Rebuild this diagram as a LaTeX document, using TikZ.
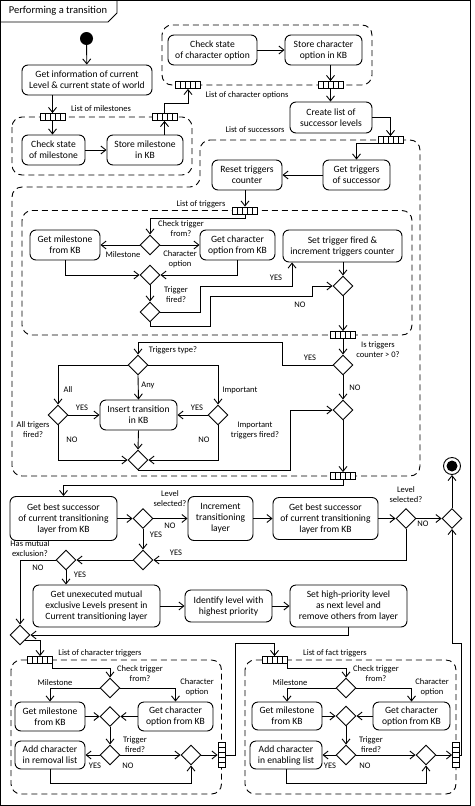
\documentclass[tikz,border=0pt]{standalone}
\usepackage{fontspec}
\setmainfont{Carlito}
\usetikzlibrary{arrows.meta,shapes.geometric,calc}
\newcommand\actfont{\fontsize{9.6}{11}\selectfont}
\newcommand\labfont{\fontsize{8.5}{10}\selectfont}
\begin{document}
\begin{tikzpicture}[x=1pt,y=-1pt,
 act/.style={draw, rounded corners=6pt, align=center, font=\actfont, inner sep=1pt, line width=0.9pt},
 dec/.style={draw, diamond, aspect=1, minimum width=20pt, minimum height=20pt, inner sep=0pt, line width=0.9pt},
 flow/.style={draw, line width=0.9pt, -{Straight Barb[length=5pt,width=8pt]}},
 region/.style={draw, line width=0.9pt, dash pattern=on 6pt off 4pt, rounded corners=10pt},
 lab/.style={font=\labfont, align=center, inner sep=0pt},
 exph/.style={draw, fill=white, line width=0.8pt, minimum width=25pt, minimum height=7pt, inner sep=0pt,
   path picture={\foreach \k in {1,2,3,4}{\draw[line width=0.8pt] ([xshift=\k*5pt]path picture bounding box.north west) -- ([xshift=\k*5pt]path picture bounding box.south west);}}},
 expv/.style={draw, fill=white, line width=0.8pt, minimum width=7pt, minimum height=25pt, inner sep=0pt,
   path picture={\foreach \k in {1,2,3,4}{\draw[line width=0.8pt] ([yshift=-\k*5pt]path picture bounding box.north west) -- ([yshift=-\k*5pt]path picture bounding box.north east);}}}
]
\useasboundingbox (0,0) rectangle (474,806);
% frame
\draw[line width=0.9pt] (0.5,0.5) rectangle (470,805.5);
\draw[line width=0.9pt] (0.5,22) -- (108,22) -- (117,13) -- (117,0.5);
\node[font=\fontsize{10.5}{12}\selectfont] (title) at (58,11) {Performing a transition};

% regions
\draw[region] (162,25) rectangle (372,85);
\draw[region] (12,117) rectangle (192,175);
\draw[region] (200,140) -- (420,140) -- (420,476) -- (12,476) -- (12,187) -- (200,187) -- cycle;
\draw[region] (22,210.5) rectangle (412,335);
\draw[region] (11,660) rectangle (221.5,794);
\draw[region] (245,660) rectangle (456,794);

% initial / final
\node[circle, fill, minimum size=13pt, inner sep=0pt] (init) at (86.5,38.5) {};
\node[circle, draw, line width=0.9pt, minimum size=17pt, inner sep=0pt] (final) at (452,466) {};
\fill (final.center) circle (5.5pt);

% actions
\node[act, minimum width=130pt, minimum height=30pt] (info) at (87,80) {Get information of current\\Level \& current state of world};
\node[act, minimum width=63pt, minimum height=30pt] (chkms) at (53.5,150) {Check state\\of milestone};
\node[act, minimum width=76pt, minimum height=30pt] (storems) at (145,150) {Store milestone\\in KB};
\node[act, minimum width=89pt, minimum height=30pt] (chkco) at (212.5,50) {Check state\\of character option};
\node[act, minimum width=77pt, minimum height=30pt] (storeco) at (323.5,50) {Store character\\option in KB};
\node[act, minimum width=82pt, minimum height=31pt] (create) at (331,117.5) {Create list of\\successor levels};
\node[act, minimum width=67pt, minimum height=30pt] (gettrig) at (356.5,175) {Get triggers\\of successor};
\node[act, minimum width=70pt, minimum height=30pt] (reset) at (247,175) {Reset triggers\\counter};
\node[act, minimum width=70pt, minimum height=30pt] (getms) at (65,245) {Get milestone\\from KB};
\node[act, minimum width=75pt, minimum height=30pt] (getco) at (237.5,245) {Get character\\option from KB};
\node[act, minimum width=119pt, minimum height=32pt] (settrig) at (342.5,246) {Set trigger fired \&\\increment triggers counter};
\node[act, minimum width=77pt, minimum height=30pt] (insert) at (138.5,415) {Insert transition\\in KB};
\node[act, minimum width=107pt, minimum height=44pt] (best1) at (63.5,518.5) {Get best successor\\of current transitioning\\layer from KB};
\node[act, minimum width=65pt, minimum height=44pt] (incr) at (220.5,518.5) {Increment\\transitioning\\layer};
\node[act, minimum width=105pt, minimum height=42pt] (best2) at (325.5,518.5) {Get best successor\\of current transitioning\\layer from KB};
\node[act, minimum width=127pt, minimum height=42pt] (unexec) at (96.5,606) {Get unexecuted mutual\\exclusive Levels present in\\Current transitioning layer};
\node[act, minimum width=87pt, minimum height=32pt] (ident) at (228.5,606) {Identify level with\\highest priority};
\node[act, minimum width=117pt, minimum height=42pt] (sethp) at (348.5,606) {Set high-priority level\\as next level and\\remove others from layer};
\node[act, minimum width=70pt, minimum height=29pt] (getms2) at (50,716.5) {Get milestone\\from KB};
\node[act, minimum width=75pt, minimum height=29pt] (getco2) at (175.5,716.5) {Get character\\option from KB};
\node[act, minimum width=70pt, minimum height=28pt] (addrem) at (50,755) {Add character\\in removal list};
\node[act, minimum width=70pt, minimum height=28pt] (getms3) at (287,716) {Get milestone\\from KB};
\node[act, minimum width=77pt, minimum height=28pt] (getco3) at (411.5,716) {Get character\\option from KB};
\node[act, minimum width=72pt, minimum height=28pt] (addena) at (286,755) {Add character\\in enabling list};

% decisions / merges
\node[dec] (dchk) at (150,245) {};
\node[dec] (dmrg1) at (150,275) {};
\node[dec] (dfired) at (150,312) {};
\node[dec] (dset) at (343,286) {};
\node[dec] (dcnt) at (343,365) {};
\node[dec] (dmrg2) at (343,410) {};
\node[dec] (dtype) at (138,365) {};
\node[dec] (dall) at (58,415) {};
\node[dec] (dimp) at (218,415) {};
\node[dec] (dmrg3) at (138,460) {};
\node[dec] (dsel1) at (143,518.5) {};
\node[dec] (dsel2) at (406,518.5) {};
\node[dec] (dmrg4) at (452,518.5) {};
\node[dec] (dyes) at (143,560) {};
\node[dec] (dmut) at (66,560) {};
\node[dec] (dmrg5) at (20,635) {};
\node[dec] (dchk2) at (110,688) {};
\node[dec] (dmrg6) at (110,716.5) {};
\node[dec] (dfired2) at (110,755) {};
\node[dec] (dmrg7) at (191,755) {};
\node[dec] (dchk3) at (346,688) {};
\node[dec] (dmrg8) at (346,716) {};
\node[dec] (dfired3) at (346,755) {};
\node[dec] (dmrg9) at (426,755) {};

% expansion nodes
\node[exph] (e1) at (52.5,117) {};
\node[exph] (e2) at (164.5,117) {};
\node[exph] (e3) at (188,85) {};
\node[exph] (e4) at (330.5,85) {};
\node[exph] (e5) at (390.5,140) {};
\node[exph] (e6) at (245,210.5) {};
\node[exph] (e7) at (343,335) {};
\node[exph] (e8) at (343,476) {};
\node[exph] (e9) at (40,660) {};
\node[exph] (e11) at (274.5,660) {};
\node[expv] (e10) at (221.5,755) {};
\node[expv] (e12) at (456,755) {};

% connectors - top
\draw[flow] (init) -- (info);
\draw[flow] (info.south -| e1) -- (e1.north);
\draw[flow] (e1.south) -- (chkms.north -| e1);
\draw[flow] (chkms) -- (storems);
\draw[flow] (storems.north -| e2) -- (e2.south);
\draw[flow] (e2.north) -- ++(0,-10) -| (e3.south);
\draw[flow] (chkco) -- (storeco);
\draw[flow] (storeco.south -| e4) -- (e4.north);
\draw[flow] (e4.south) -- (e4 |- create.north);
\draw[flow] (create.east) -| (e5.north);
\draw[flow] (e5.south west) -| (gettrig.north);
\draw[flow] (gettrig) -- (reset);
\draw[flow] (reset.south -| e6) -- (e6.north);
% triggers region
\draw[flow] (e6.south) -- ++(0,4) -| (dchk.north);
\draw[flow] (dchk.west) -- (getms.east);
\draw[flow] (dchk.east) -- (getco.west);
\draw[flow] (getms.south) |- (dmrg1.west);
\draw[flow] (getco.south) |- (dmrg1.east);
\draw[flow] (dmrg1.south) -- (dfired.north);
\draw[flow] (dfired.east) -- ++(40,0) -- ++(0,-26) -| ([xshift=9.5pt]settrig.south west);
\draw[flow] (dfired.south) -- ++(0,4) -- ++(60,0) -- ++(0,-30) -- ++(102,0) |- (dset.west);
\draw[flow] (settrig.south -| dset) -- (dset.north);
\draw[flow] (dset.south) -- (e7.north);
\draw[flow] (e7.south) -- (dcnt.north);
\draw[flow] (dcnt.west) -- ++(-50,0) -- ++(0,-23) -| (dtype.north);
\draw[flow] (dcnt.south) -- (dmrg2.north);
\draw[flow] (dtype.west) -| (dall.north);
\draw[flow] (dtype.east) -| (dimp.north);
\draw[flow] (dtype.south) -- (insert.north);
\draw[flow] (dall.east) -- (insert.west);
\draw[flow] (dimp.west) -- (insert.east);
\draw[flow] (dall.south) |- (dmrg3.west);
\draw[flow] (dimp.south) |- (dmrg3.east);
\draw[flow] (insert.south) -- (dmrg3.north);
\draw[flow] (dmrg3.south) -- ++(152,0) |- (dmrg2.west);
\draw[flow] (dmrg2.south) -- (e8.north);
% lower part
\draw[flow] (e8.south) -- ++(0,5.5) -| (best1.north);
\draw[flow] (best1.east) -- (dsel1.west);
\draw[flow] (dsel1.east) -- (incr.west);
\draw[flow] (incr.east) -- (best2.west);
\draw[flow] (best2.east) -- (dsel2.west);
\draw[flow] (dsel2.east) -- (dmrg4.west);
\draw[flow] (dmrg4.north) -- (final.south);
\draw[flow] (dsel2.south) |- (dyes.east);
\draw[flow] (dsel1.south) -- (dyes.north);
\draw[flow] (dyes.west) -- (dmut.east);
\draw[flow] (dmut.south) -- (dmut.south |- unexec.north);
\draw[flow] (dmut.west) -| (dmrg5.north);
\draw[flow] (unexec.east) -- (ident.west);
\draw[flow] (ident.east) -- (sethp.west);
\draw[flow] (sethp.south) |- (dmrg5.east);
\draw[flow] (dmrg5.south east) -| (e9.north);
% bottom left
\draw[flow] (e9.south east) -- ++(0,4.5) -| (dchk2.north);
\draw[flow] (dchk2.west) -| (getms2.north);
\draw[flow] (dchk2.east) -| (getco2.north);
\draw[flow] (getms2.east) -- (dmrg6.west);
\draw[flow] (getco2.west) -- (dmrg6.east);
\draw[flow] (dmrg6.south) -- (dfired2.north);
\draw[flow] (dfired2.west) -- (addrem.east);
\draw[flow] (dfired2.east) -- (dmrg7.west);
\draw[flow] (addrem.south) -- ++(0,14) -| (dmrg7.south);
\draw[flow] (dmrg7.east) -- (e10.west);
\draw[flow] (e10.east) -- ++(10,0) -- ++(0,-112) -| (e11.north);
% bottom right
\draw[flow] (e11.south east) -- ++(0,4.5) -| (dchk3.north);
\draw[flow] (dchk3.west) -| (getms3.north);
\draw[flow] (dchk3.east) -| (getco3.north);
\draw[flow] (getms3.east) -- (dmrg8.west);
\draw[flow] (getco3.west) -- (dmrg8.east);
\draw[flow] (dmrg8.south) -- (dfired3.north);
\draw[flow] (dfired3.west) -- (addena.east);
\draw[flow] (dfired3.east) -- (dmrg9.west);
\draw[flow] (addena.south) -- ++(0,14) -| (dmrg9.south);
\draw[flow] (dmrg9.east) -- (e12.west);
\draw[flow] (e12.east) -- ++(2,0) -- ++(0,-112) -| (dmrg4.south);

% labels
\node[lab] (lms) at (101,109) {List of milestones};
\node[lab] (lco) at (247,95) {List of character options};
\node[lab] (lsu) at (255,130) {List of successors};
\node[lab] (ltr) at (201,204) {List of triggers};
\node[lab] (qchk) at (181,229) {Check trigger\\from?};
\node[lab] (lmil) at (123,255) {Milestone};
\node[lab] (lcho) at (180,259) {Character\\option};
\node[lab] (qfir) at (176,295) {Trigger\\fired?};
\node[lab] (ly1) at (276,278) {YES};
\node[lab] (ln1) at (300,305) {NO};
\node[lab] (qcnt) at (378,350) {Is triggers\\counter > 0?};
\node[lab] (ly2) at (310,358) {YES};
\node[lab] (ln2) at (355,388) {NO};
\node[lab] (qtyp) at (173,350) {Triggers type?};
\node[lab] (lall) at (68,390) {All};
\node[lab] (lany) at (148,385) {Any};
\node[lab] (limp) at (240,390) {Important};
\node[lab] (qall) at (33,430) {All trigers\\fired?};
\node[lab] (ly3) at (82,408) {YES};
\node[lab] (ln3) at (72,440) {NO};
\node[lab] (ly4) at (197,408) {YES};
\node[lab] (ln4) at (204,440) {NO};
\node[lab] (qimp) at (255,430) {Important\\triggers fired?};
\node[lab] (qsel1) at (170,499) {Level\\selected?};
\node[lab] (ln5) at (170,526) {NO};
\node[lab] (qsel2) at (406,495) {Level\\selected?};
\node[lab] (ln6) at (423,524) {NO};
\node[lab] (ly5) at (156,535) {YES};
\node[lab] (ly6) at (176,553) {YES};
\node[lab] (qmut) at (30,549) {Has mutual\\exclusion?};
\node[lab] (ln7) at (38,568) {NO};
\node[lab] (ly7) at (80,575) {YES};
\node[lab] (lct) at (100,653) {List of character triggers};
\node[lab] (qchk2) at (140,674) {Check trigger\\from?};
\node[lab] (lmil2) at (55,683) {Milestone};
\node[lab] (lcho2) at (197,687) {Character\\option};
\node[lab] (qfir2) at (135,745) {Trigger\\fired?};
\node[lab] (ly8) at (95,766) {YES};
\node[lab] (ln8) at (128,766) {NO};
\node[lab] (lft) at (335,653) {List of fact triggers};
\node[lab] (qchk3) at (376,674) {Check trigger\\from?};
\node[lab] (lmil3) at (290,683) {Milestone};
\node[lab] (lcho3) at (432,687) {Character\\option};
\node[lab] (qfir3) at (371,745) {Trigger\\fired?};
\node[lab] (ly9) at (330,766) {YES};
\node[lab] (ln9) at (365,766) {NO};
\end{tikzpicture}
\end{document}
